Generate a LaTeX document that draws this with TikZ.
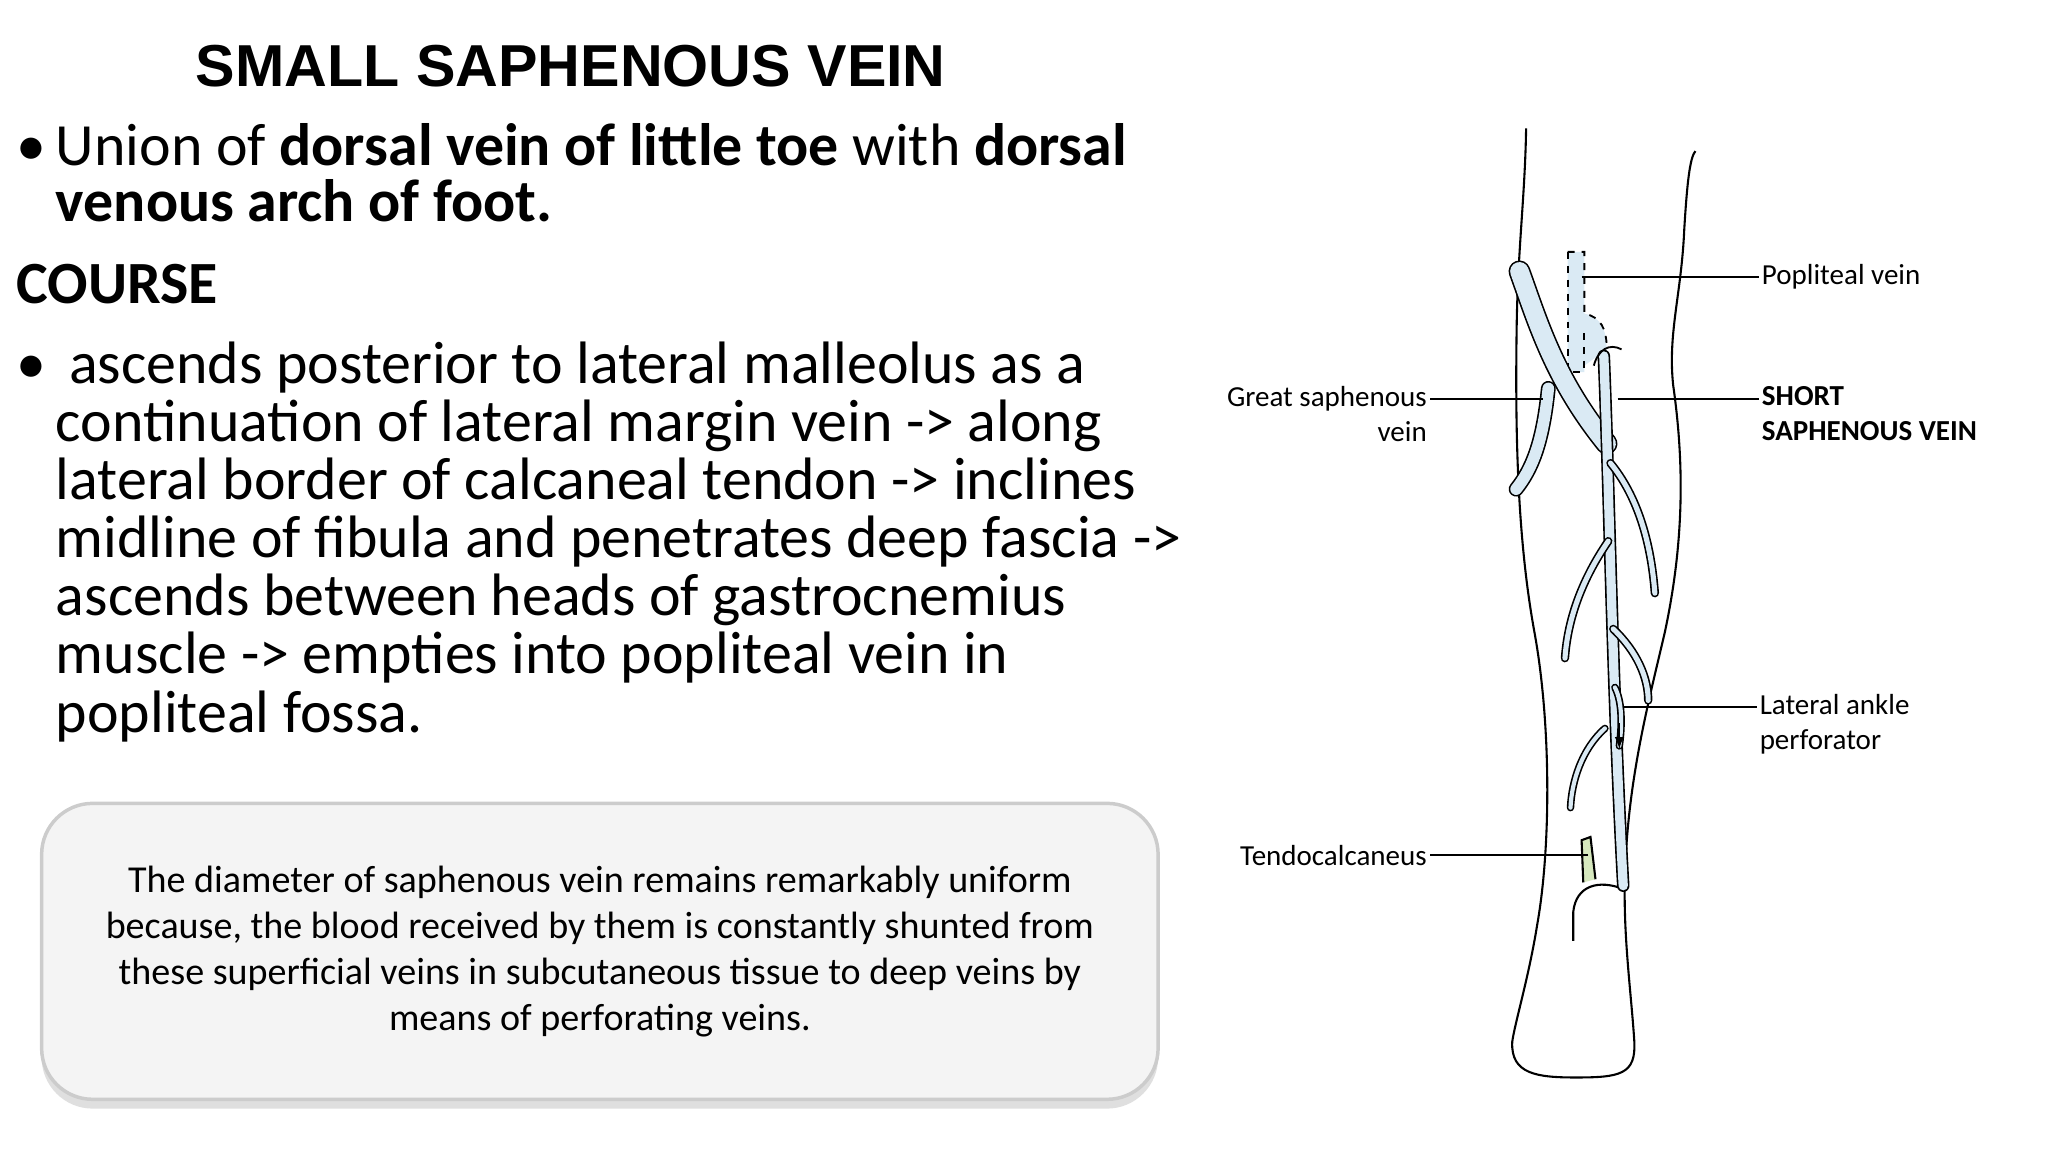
\documentclass[tikz,border=0pt]{standalone}
\usepackage{fontspec}
\setmainfont{Carlito}
\newfontfamily\titlefont{Liberation Sans}
\usetikzlibrary{positioning,shadows}
\definecolor{veinblue}{RGB}{218,234,244}
\definecolor{tendon}{RGB}{214,232,190}
\definecolor{boxgray}{RGB}{244,244,244}
\tikzset{
  body/.style={anchor=base west,inner sep=0pt,font=\fontsize{25.8}{28}\selectfont},
  lbl/.style={inner sep=1pt,font=\fontsize{12.5}{15}\selectfont,align=left},
  lead/.style={line width=0.7pt},
  outline/.style={line width=0.9pt},
}
\newcommand{\vein}[2]{%
  \draw[line width=#1+1.4pt,black,line cap=round] #2;
  \draw[line width=#1,veinblue,line cap=round] #2;}
\begin{document}
\begin{tikzpicture}[x=0.02cm,y=-0.02cm]
\useasboundingbox (0,0) rectangle (1550,872);
% heading and text
\node[inner sep=0pt,font=\titlefont\bfseries\fontsize{25.5}{28}\selectfont] (title) at (432,50) {SMALL SAPHENOUS VEIN};
\node[body] (b1) at (12,125) {\textbullet};
\node[body] (u1) at (42,125) {Union of \textbf{dorsal vein of little toe} with \textbf{dorsal}};
\node[body] (u2) at (42,168) {\textbf{venous arch of foot.}};
\node[body] (course) at (12,230) {\textbf{COURSE}};
\node[body] (b2) at (12,290) {\textbullet};
\foreach \t [count=\i from 0] in {{ascends posterior to lateral malleolus as a},
  {continuation of lateral margin vein -> along},
  {lateral border of calcaneal tendon -> inclines},
  {midline of fibula and penetrates deep fascia ->},
  {ascends between heads of gastrocnemius},
  {muscle -> empties into popliteal vein in},
  {popliteal fossa.}}
  \node[body] (c\i) at (\ifnum\i=0 52\else 42\fi,290+44*\i) {\t};
% note box
\node[draw=gray!40,line width=1.5pt,fill=boxgray,rounded corners=22pt,
  minimum width=845*0.02cm,minimum height=224*0.02cm,
  drop shadow={shadow xshift=0pt,shadow yshift=-4pt,fill=gray!50},
  align=center,font=\fontsize{16.4}{19.8}\selectfont] (note) at (454,720)
  {The diameter of saphenous vein remains remarkably uniform\\
   because, the blood received by them is constantly shunted from\\
   these superficial veins in subcutaneous tissue to deep veins by\\
   means of perforating veins.};
% leg
\begin{scope}[shift={(903,75)},xscale=0.42,yscale=0.492]
\draw[outline] (600,45) .. controls (598,150) and (585,230) .. (583,350)
  .. controls (580,520) and (585,680) .. (615,820)
  .. controls (645,960) and (645,1150) .. (620,1270)
  .. controls (605,1350) and (580,1420) .. (575,1450)
  .. controls (572,1500) and (620,1505) .. (690,1505)
  .. controls (770,1505) and (798,1500) .. (795,1450)
  .. controls (790,1380) and (775,1290) .. (778,1200)
  .. controls (782,1050) and (820,930) .. (850,820)
  .. controls (885,680) and (885,560) .. (865,440)
  .. controls (855,360) and (880,300) .. (885,200)
  .. controls (890,130) and (895,90) .. (905,80);
\draw[outline] (685,1295) -- (685,1250) .. controls (690,1210) and (730,1200) .. (775,1215);
\draw[outline,fill=tendon] (703,1205) -- (700,1140) -- (716,1135) -- (725,1200);
% popliteal vein
\fill[veinblue] (675,235) -- (705,235) -- (705,330) .. controls (735,335) and (745,355) .. (745,385)
  -- (705,410) -- (705,420) -- (675,420) -- cycle;
\draw[dashed,line width=0.8pt] (675,235) -- (705,235) -- (705,330) .. controls (735,335) and (745,355) .. (745,380);
\draw[dashed,line width=0.8pt] (675,235) -- (675,420) -- (705,420);
\draw[dashed,line width=0.8pt] (705,360) -- (705,420);
% great saphenous
\vein{8pt}{(588,265) .. controls (620,340) and (650,430) .. (745,530)}
\vein{5pt}{(640,445) .. controls (630,530) and (610,570) .. (582,600)}
% short saphenous
\vein{4pt}{(740,395) .. controls (750,600) and (755,900) .. (775,1210)}
\draw[line width=0.8pt] (722,410) .. controls (730,385) and (750,375) .. (772,385);
\vein{2.2pt}{(752,560) .. controls (800,610) and (825,680) .. (832,760)}
\vein{2.2pt}{(748,680) .. controls (700,740) and (675,800) .. (670,860)}
\vein{2.2pt}{(757,815) .. controls (800,850) and (820,890) .. (820,925)}
\vein{1.8pt}{(760,905) .. controls (775,930) and (772,970) .. (768,995)}
\draw[line width=0.8pt,-latex] (768,960) -- (768,1000);
\vein{1.8pt}{(742,968) .. controls (700,1000) and (682,1050) .. (680,1090)}
% labels
\coordinate (pv) at (700,274);
\coordinate (ssv) at (765,461);
\coordinate (gsv) at (630,461);
\coordinate (lap) at (775,935);
\coordinate (tc) at (712,1163);
\node[lbl,anchor=west] (pvl) at (1020,274) {Popliteal vein};
\node[lbl,anchor=north west,font=\bfseries\fontsize{12.5}{15}\selectfont] (ssvl) at (1020,438) {SHORT\\SAPHENOUS VEIN};
\node[lbl,anchor=north east,align=right] (gsvl) at (426,438) {Great saphenous\\vein};
\node[lbl,anchor=north west] (lapl) at (1016,912) {Lateral ankle\\perforator};
\node[lbl,anchor=east] (tcl) at (426,1163) {Tendocalcaneus};
\draw[lead] (pv) -- (pv -| pvl.west);
\draw[lead] (ssv) -- (ssv -| ssvl.west);
\draw[lead] (gsv) -- (gsv -| gsvl.east);
\draw[lead] (lap) -- (lap -| lapl.west);
\draw[lead] (tc) -- (tcl.east);
\end{scope}
\end{tikzpicture}
\end{document}
